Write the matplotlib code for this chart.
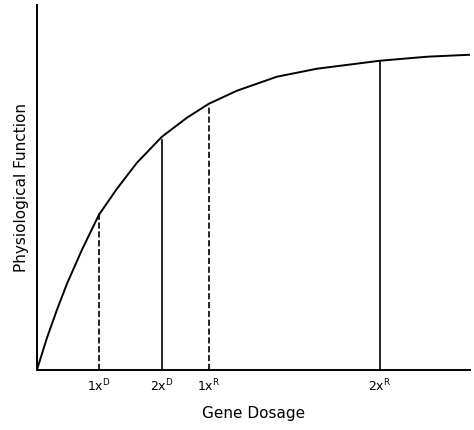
import matplotlib
matplotlib.use("Agg")
import matplotlib.pyplot as plt

# curve (x = gene dosage, y = physiological function)
curva_x = [0, 10, 20, 30, 45, 62, 80, 100, 125, 150, 172, 200, 240, 280, 343, 390, 433]
curva_y = [0, 32, 60, 86, 120, 155, 181, 207, 233, 252, 266, 279, 293, 301, 309, 313, 315]

# vertical markers
marca_x = [62, 125, 172, 343]
marca_y = [157, 230, 264, 308]
marca_estilo = ["--", "-", "--", "-"]
marca_label = ["1x$^{\\mathrm{D}}$", "2x$^{\\mathrm{D}}$", "1x$^{\\mathrm{R}}$", "2x$^{\\mathrm{R}}$"]

plt.rcParams["font.family"] = ["DejaVu Sans"]
fig = plt.figure(figsize=(4.74, 4.30), dpi=100)
ax = fig.add_axes([0.078, 0.14, 0.913, 0.849])

ax.plot(curva_x, curva_y, color="black", lw=1.4)
for x, y, ls in zip(marca_x, marca_y, marca_estilo):
    ax.plot([x, x], [0, y], color="black", lw=1.2, linestyle=ls)

ax.set_xlim(0, 433)
ax.set_ylim(0, 365)
ax.spines["top"].set_visible(False)
ax.spines["right"].set_visible(False)
for s in ("left", "bottom"):
    ax.spines[s].set_linewidth(1.4)
ax.set_yticks([])
ax.set_xticks(marca_x)
ax.set_xticklabels(marca_label, fontsize=9)
ax.tick_params(axis="x", length=0, pad=6)
ax.set_xlabel("Gene Dosage", fontsize=11, labelpad=8)
ax.set_ylabel("Physiological Function", fontsize=11, labelpad=6)

fig.savefig("out.png", dpi=100)
